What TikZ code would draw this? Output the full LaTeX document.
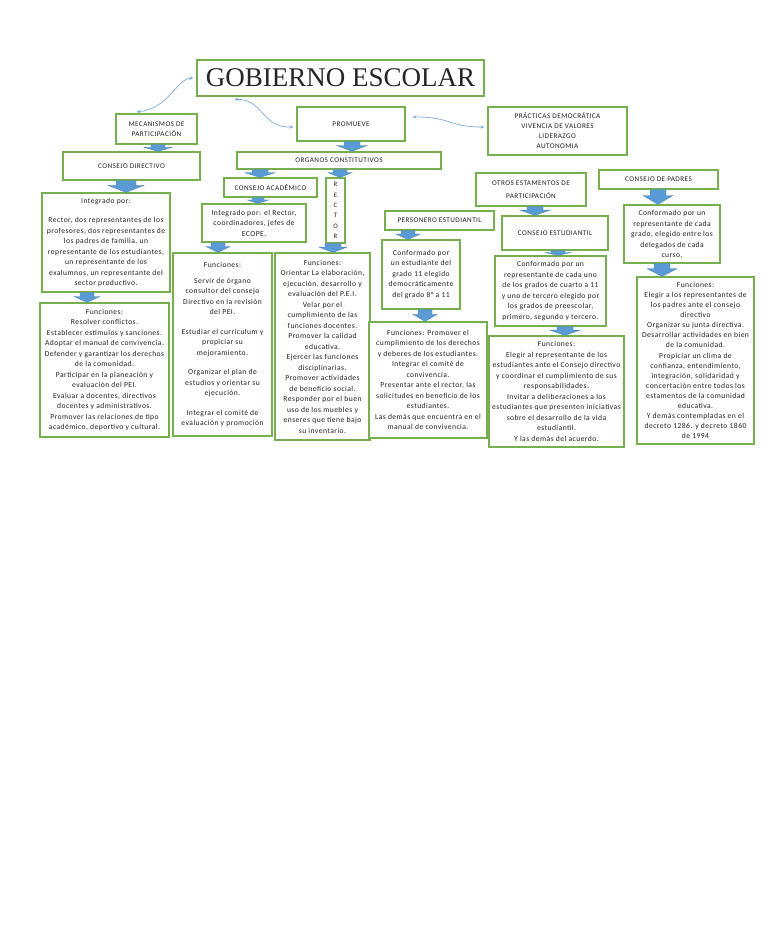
\documentclass[tikz,border=0pt]{standalone}
\usepackage{fontspec}
\setmainfont{Carlito}[LetterSpace=6]
\newfontfamily\titlefont{Liberation Serif}
\usetikzlibrary{calc,arrows.meta}
\definecolor{bgreen}{RGB}{118,176,78}
\definecolor{ablue}{RGB}{91,155,213}
\definecolor{cblue}{RGB}{125,172,222}
\definecolor{txt}{RGB}{35,35,35}
\tikzset{
  boxst/.style={draw=bgreen, line width=1.1pt, fill=white, inner sep=0pt, rectangle},
  txtst/.style={inner sep=0pt, align=center, text=txt, font=\fontsize{7.6}{10.5}\selectfont},
  capst/.style={font=\fontsize{7.2}{10}\selectfont},
  barrow/.style={fill=ablue, draw=ablue!85!black, line width=0.3pt},
  curvy/.style={draw=cblue, line width=0.7pt, {Stealth[length=4pt,width=3.2pt]}-{Stealth[length=4pt,width=3.2pt]}},
}
\newcommand\bx[7][]{%
  \node[boxst, minimum width={(#5-#3)*1pt}, minimum height={(#6-#4)*1pt}] (#2) at ({(#3+#5)/2},{(#4+#6)/2}) {};
  \node[txtst,#1] (#2-t) at (#2.center) {#7};
}
\newcommand\barr[5]{%
  \path[barrow] let \p1=(#1.south), \p2=(#2.north), \n1={\y1-\y2} in
    (#3pt-#4pt,\y1) -- (#3pt+#4pt,\y1) -- (#3pt+#4pt,{\y1-0.4*\n1}) -- (#3pt+#5pt,{\y1-0.4*\n1})
    -- (#3pt,\y2) -- (#3pt-#5pt,{\y1-0.4*\n1}) -- (#3pt-#4pt,{\y1-0.4*\n1}) -- cycle;
}
\begin{document}
\begin{tikzpicture}[x=1pt,y=-1pt]
\useasboundingbox[fill=white] (0,0) rectangle (768,932);

% top level
\bx[font=\titlefont\fontsize{27}{30}\selectfont, text=black!85]{gob}{197}{60}{484}{96}{GOBIERNO ESCOLAR}
\bx[capst]{mec}{116}{114}{197}{144}{MECANISMOS DE\\PARTICIPACIÓN}
\bx[capst]{prom}{297}{107}{405}{141}{PROMUEVE}
\bx[capst]{prac}{488}{107}{627}{155}{PRÁCTICAS DEMOCRÁTICA\\VIVENCIA DE VALORES\\LIDERAZGO\\AUTONOMIA}
\bx[capst]{cd}{63}{152}{200}{180}{CONSEJO DIRECTIVO}
\bx[capst]{org}{237}{152}{441}{169}{ORGANOS CONSTITUTIVOS}
\bx[capst]{ca}{224}{178}{317}{197}{CONSEJO ACADÉMICO}
\bx[font=\fontsize{6.8}{10.3}\selectfont]{rec}{326}{178}{345}{243}{R\\E\\C\\T\\O\\R}
\bx[font=\fontsize{7.2}{12.5}\selectfont]{otros}{476}{173}{586}{206}{OTROS ESTAMENTOS DE\\PARTICIPACIÓN}
\bx[capst]{padres}{599}{170}{718}{189}{CONSEJO DE PADRES}
\bx[capst]{pers}{385}{211}{494}{230}{PERSONERO ESTUDIANTIL}
\bx[capst]{ce}{502}{216}{608}{250}{CONSEJO ESTUDIANTIL}

% second level
\bx{cdint}{42}{193}{170}{292}{Integrado por:\\[9pt]Rector, dos representantes de los\\profesores, dos representantes de\\los padres de familia, un\\representante de los estudiantes,\\un representante de los\\exalumnos, un representante del\\sector productivo.}
\bx{caint}{202}{204}{306}{242}{Integrado por: el Rector,\\coordinadores, jefes de\\ECOPE.}
\bx{persconf}{382}{240}{460}{309}{Conformado por\\un estudiante del\\grado 11 elegido\\democráticamente\\del grado 8° a 11}
\bx{ceconf}{495}{256}{606}{326}{Conformado por un\\representante de cada uno\\de los grados de cuarto a 11\\y uno de tercero elegido por\\los grados de preescolar,\\primero, segundo y tercero.}
\bx{padconf}{624}{205}{720}{263}{Conformado por un\\representante de cada\\grado, elegido entre los\\delegados de cada\\curso.}

% funciones
\bx{cdfun}{40}{303}{169}{437}{Funciones:\\Resolver conflictos.\\Establecer estímulos y sanciones.\\Adoptar el manual de convivencia.\\Defender y garantizar los derechos\\de la comunidad.\\Participar en la planeación y\\evaluación del PEI.\\Evaluar a docentes, directivos\\docentes y administrativos.\\Promover las relaciones de tipo\\académico, deportivo y cultural.}
\bx{cafun}{173}{253}{272}{436}{Funciones:\\[5pt]Servir de órgano\\consultor del consejo\\Directivo en la revisión\\del PEI.\\[9pt]Estudiar el curriculum y\\propiciar su\\mejoramiento.\\[9pt]Organizar el plan de\\estudios y orientar su\\ejecución.\\[9pt]Integrar el comité de\\evaluación y promoción}
\bx{recfun}{275}{253}{370}{440}{Funciones:\\Orientar La elaboración,\\ejecución, desarrollo y\\evaluación del P.E.I.\\Velar por el\\cumplimiento de las\\funciones docentes.\\Promover la calidad\\educativa.\\Ejercer las funciones\\disciplinarias.\\Promover actividades\\de beneficio social.\\Responder por el buen\\uso de los muebles y\\enseres que tiene bajo\\su inventario.}
\bx{persfun}{369}{322}{487}{438}{Funciones: Promover el\\cumplimiento de los derechos\\y deberes de los estudiantes.\\Integrar el comité de\\convivencia.\\Presentar ante el rector, las\\solicitudes en beneficio de los\\estudiantes.\\Las demás que encuentra en el\\manual de convivencia.}
\bx{cefun}{489}{336}{624}{447}{Funciones:\\Elegir al representante de los\\estudiantes ante el Consejo directivo\\y coordinar el cumplimiento de sus\\responsabilidades.\\Invitar a deliberaciones a los\\estudiantes que presenten iniciativas\\sobre el desarrollo de la vida\\estudiantil.\\Y las demás del acuerdo.}
\bx[font=\fontsize{7.6}{10.1}\selectfont]{padfun}{637}{277}{754}{444}{Funciones:\\Elegir a los representantes de\\los padres ante el consejo\\directivo\\Organizar su junta directiva.\\Desarrollar actividades en bien\\de la comunidad.\\Propiciar un clima de\\confianza, entendimiento,\\integración, solidaridad y\\concertación entre todos los\\estamentos de la comunidad\\educativa.\\Y demás contempladas en el\\decreto 1286. y decreto 1860\\de 1994}

% block arrows
\barr{mec}{cd}{158}{7}{14}
\barr{cd}{cdint}{126}{10}{18}
\barr{prom}{org}{352}{8}{15}
\barr{org}{ca}{260}{8}{15}
\barr{org}{rec}{340}{7}{12}
\barr{ca}{caint}{258}{6}{11}
\barr{caint}{cafun}{218}{7}{12}
\barr{rec}{recfun}{333}{8}{14}
\barr{cdint}{cdfun}{87}{7}{13}
\barr{pers}{persconf}{408}{7}{12}
\barr{persconf}{persfun}{425}{7}{12}
\barr{otros}{ce}{535}{8}{15}
\barr{ce}{ceconf}{558}{7}{13}
\barr{ceconf}{cefun}{565}{8}{15}
\barr{padres}{padconf}{658}{8}{15}
\barr{padconf}{padfun}{662}{8}{15}

% curved connectors
\coordinate (c1a) at ([xshift=-3pt]gob.west);
\coordinate (c1b) at ([xshift=21pt,yshift=1.5pt]mec.north west);
\draw[curvy] (c1a) .. controls (176,79) and (170,108) .. (c1b);
\coordinate (c2a) at ([xshift=38pt,yshift=-3pt]gob.south west);
\coordinate (c2b) at ([xshift=-3pt,yshift=-3pt]prom.west);
\draw[curvy] (c2a) .. controls (262,98) and (262,128) .. (c2b);
\coordinate (c3a) at ([xshift=7pt,yshift=7pt]prom.east);
\coordinate (c3b) at ([xshift=-3pt,yshift=4pt]prac.west);
\draw[curvy] (c3a) .. controls (452,117) and (448,127) .. (c3b);
\end{tikzpicture}
\end{document}
